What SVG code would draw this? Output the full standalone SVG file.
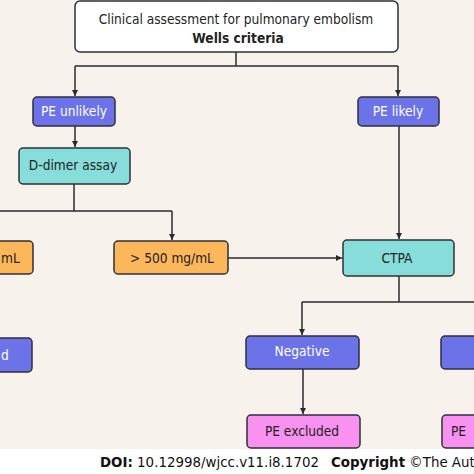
<svg xmlns="http://www.w3.org/2000/svg" width="474" height="474" viewBox="0 0 474 474">
<defs>
<marker id="ah" viewBox="0 0 6 6" refX="6" refY="3" markerWidth="6" markerHeight="6" markerUnits="userSpaceOnUse" orient="auto">
<path d="M0,0 L6,3 L0,6 Z" fill="#2b2b2b"/>
</marker>
<style>
.box{stroke:#2f2f3a;stroke-width:1.5}
.blue{fill:#6c73e8}
.teal{fill:#86ddd9}
.orange{fill:#fdb75b}
.pink{fill:#f891f0}
.white{fill:#ffffff}
text{font-family:"DejaVu Sans Condensed","DejaVu Sans",sans-serif;font-size:13.6px;fill:#222}
.c{text-anchor:middle}
.lt{fill:#ffffff}
.ln{fill:none;stroke:#2b2b2b;stroke-width:1.5}
.foot{font-family:"DejaVu Sans",sans-serif;font-size:13.4px;fill:#111}
</style>
</defs>
<rect x="0" y="0" width="474" height="474" fill="#ffffff"/>
<rect x="0" y="0" width="474" height="449" fill="#f7f3ec"/>
<g id="connectors">
<path class="ln" d="M236,52 V66"/>
<path class="ln" d="M75,66 H398"/>
<path class="ln" d="M75,66 V96" marker-end="url(#ah)"/>
<path class="ln" d="M398,66 V96" marker-end="url(#ah)"/>
<path class="ln" d="M75,126 V147" marker-end="url(#ah)"/>
<path class="ln" d="M74,184 V211"/>
<path class="ln" d="M-2,211 H172"/>
<path class="ln" d="M172,211 V240" marker-end="url(#ah)"/>
<path class="ln" d="M399,126 V239" marker-end="url(#ah)"/>
<path class="ln" d="M228,258 H342" marker-end="url(#ah)"/>
<path class="ln" d="M399,276 V302"/>
<path class="ln" d="M302,302 H476"/>
<path class="ln" d="M302,302 V335" marker-end="url(#ah)"/>
<path class="ln" d="M303,369 V414" marker-end="url(#ah)"/>
</g>
<g id="wells">
<rect class="box white" x="75" y="1" width="323" height="51" rx="5"/>
<text class="c" x="236" y="24">Clinical assessment for pulmonary embolism</text>
<text class="c" x="238" y="43" font-weight="bold">Wells criteria</text>
</g>
<g id="pe-unlikely">
<rect class="box blue" x="33" y="97" width="82" height="29" rx="4"/>
<text class="c lt" x="74" y="116">PE unlikely</text>
</g>
<g id="pe-likely">
<rect class="box blue" x="358" y="97" width="81" height="29" rx="4"/>
<text class="c lt" x="398" y="116">PE likely</text>
</g>
<g id="d-dimer">
<rect class="box teal" x="19" y="148" width="111" height="36" rx="4"/>
<text class="c" x="73" y="170">D-dimer assay</text>
</g>
<g id="low">
<rect class="box orange" x="-20" y="241" width="53" height="33" rx="4"/>
<text x="1" y="263">mL</text>
</g>
<g id="high">
<rect class="box orange" x="114" y="241" width="114" height="33" rx="4"/>
<text class="c" x="172" y="263">&gt; 500 mg/mL</text>
</g>
<g id="ctpa">
<rect class="box teal" x="343" y="240" width="111" height="36" rx="4"/>
<text class="c" x="397" y="263">CTPA</text>
</g>
<g id="left-result">
<rect class="box blue" x="-20" y="338" width="52" height="34" rx="4"/>
<text class="lt" x="1" y="360">d</text>
</g>
<g id="negative">
<rect class="box blue" x="246" y="336" width="113" height="33" rx="4"/>
<text class="c lt" x="302" y="356">Negative</text>
</g>
<g id="positive">
<rect class="box blue" x="441" y="336" width="60" height="33" rx="4"/>
</g>
<g id="pe-excluded">
<rect class="box pink" x="247" y="415" width="113" height="33" rx="4"/>
<text class="c" x="302" y="436">PE excluded</text>
</g>
<g id="pe-confirmed">
<rect class="box pink" x="442" y="415" width="60" height="33" rx="4"/>
<text x="451" y="436">PE</text>
</g>
<text class="foot" x="100" y="467"><tspan font-weight="bold">DOI:</tspan> 10.12998/wjcc.v11.i8.1702<tspan x="331" font-weight="bold">Copyright</tspan> ©The Aut</text>
</svg>
